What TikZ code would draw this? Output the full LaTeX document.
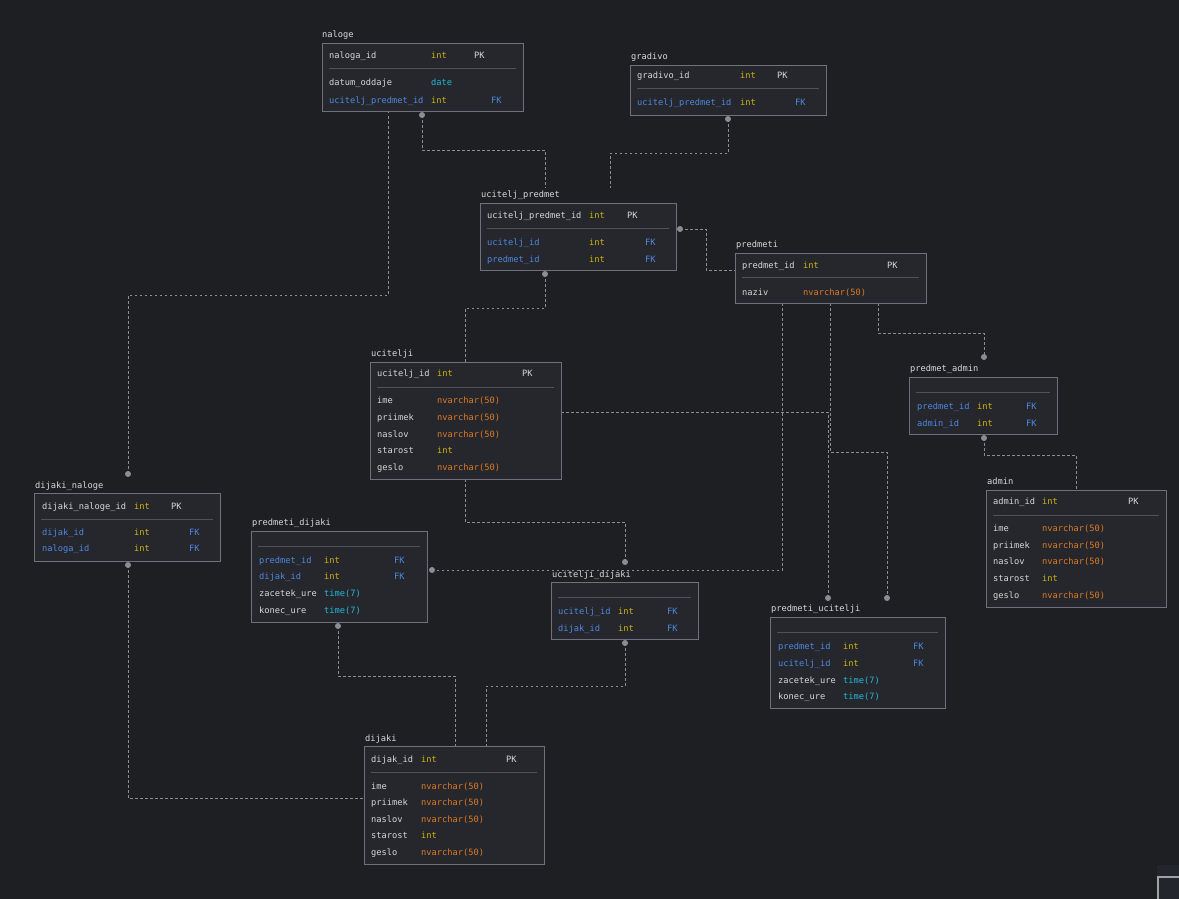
\documentclass[tikz,border=0pt]{standalone}
\usepackage{fontspec}
\setmonofont{DejaVu Sans Mono}
\definecolor{bg}{HTML}{1E1F23}
\definecolor{tfill}{HTML}{25272D}
\definecolor{tborder}{HTML}{6E717B}
\definecolor{tsep}{HTML}{4F525A}
\definecolor{ttitle}{HTML}{DADADA}
\definecolor{tname}{HTML}{D8D8D8}
\definecolor{tyel}{HTML}{CDB70F}
\definecolor{torg}{HTML}{DE7A26}
\definecolor{tcyan}{HTML}{22BAD8}
\definecolor{tblue}{HTML}{4F88DF}
\definecolor{conn}{HTML}{8A8D95}
\definecolor{panel}{HTML}{22252C}
\definecolor{panelline}{HTML}{A0A2A8}
\newcommand\fld[8]{\node[#4] (#1n) at (#3,#2) {#5}; \node[#7] (#1t) at (#6,#2) {#8};}
\newcommand\ky[5]{\node[#4] (#1k) at (#3,#2) {#5};}
\newcommand\tsepline[4]{\draw[sepl] (#2,#1) -- (#3,#1) coordinate (#4);}
\begin{document}
\begin{tikzpicture}[x=1pt,y=-1pt,
  txt/.style={anchor=base west,inner sep=0pt,yshift=-3pt,font=\fontsize{8.7}{10}\selectfont\ttfamily},
  nm/.style={txt,text=tname},
  fk/.style={txt,text=tblue},
  ty/.style={txt,text=tyel},
  ny/.style={txt,text=torg},
  tc/.style={txt,text=tcyan},
  pk/.style={txt,text=tname},
  ttl/.style={txt,text=ttitle},
  tbl/.style={draw=tborder,fill=tfill,line width=1.4pt,anchor=north west,inner sep=0pt},
  sepl/.style={draw=tsep,line width=1pt},
  connl/.style={draw=conn,line width=0.9pt,dash pattern=on 2.5pt off 2.5pt},
  dotm/.style={circle,fill=conn,inner sep=0pt,minimum size=6pt}]
\useasboundingbox[fill=bg] (0,0) rectangle (1179,899);
% bottom-right panel
\fill[panel] (1157,865) rectangle (1179,899);
\draw[panelline,line width=1.2pt] (1158,899) -- (1158,877) -- (1179,877);
% connector coordinates
\coordinate (c1a) at (388,111); \coordinate (c1b) at (128,474);
\coordinate (c2a) at (422,115); \coordinate (c2b) at (545,188);
\coordinate (c3a) at (728,119); \coordinate (c3b) at (610,188);
\coordinate (c4a) at (680,229); \coordinate (c4b) at (735,270);
\coordinate (c5a) at (545,274); \coordinate (c5b) at (465,362);
\coordinate (c6a) at (878,303); \coordinate (c6b) at (984,357);
\coordinate (c7a) at (984,438); \coordinate (c7b) at (1076,490);
\coordinate (c8a) at (561,412); \coordinate (c8b) at (828,598);
\coordinate (c9a) at (830,303); \coordinate (c9b) at (887,598);
\coordinate (c10a) at (782,303); \coordinate (c10b) at (432,570);
\coordinate (c11a) at (465,479); \coordinate (c11b) at (625,562);
\coordinate (c12a) at (625,643); \coordinate (c12b) at (486,746);
\coordinate (c13a) at (338,626); \coordinate (c13b) at (455,746);
\coordinate (c14a) at (128,565); \coordinate (c14b) at (364,798);
% connectors
\draw[connl] (c1a) -- (388,295) -| (c1b);
\draw[connl] (c2a) -- (422,150) -| (c2b);
\draw[connl] (c3a) -- (728,153) -| (c3b);
\draw[connl] (c4a) -- (706,229) |- (c4b);
\draw[connl] (c5a) -- (545,308) -| (c5b);
\draw[connl] (c6a) -- (878,333) -| (c6b);
\draw[connl] (c7a) -- (984,455) -| (c7b);
\draw[connl] (c8a) -| (c8b);
\draw[connl] (c9a) -- (830,452) -| (c9b);
\draw[connl] (c10a) |- (c10b);
\draw[connl] (c11a) -- (465,522) -| (c11b);
\draw[connl] (c12a) -- (625,686) -| (c12b);
\draw[connl] (c13a) -- (338,676) -| (c13b);
\draw[connl] (c14a) |- (c14b);
% ---------- naloge
\node[tbl,minimum width=201pt,minimum height=68pt] (naloge) at (322,43) {};
\node[ttl] (nalogeT) at (322,35) {naloge};
\tsepline{69}{329}{516}{nalogeS}
\fld{na1}{56}{329}{nm}{naloga\_id}{431}{ty}{int}\ky{na1}{56}{474}{pk}{PK}
\fld{na2}{83}{329}{nm}{datum\_oddaje}{431}{tc}{date}
\fld{na3}{100}{329}{fk}{ucitelj\_predmet\_id}{431}{ty}{int}\ky{na3}{100}{491}{fk}{FK}
% ---------- gradivo
\node[tbl,minimum width=196pt,minimum height=50pt] (gradivo) at (630,65) {};
\node[ttl] (gradivoT) at (631,57) {gradivo};
\tsepline{89}{637}{819}{gradivoS}
\fld{gr1}{76}{637}{nm}{gradivo\_id}{740}{ty}{int}\ky{gr1}{76}{777}{pk}{PK}
\fld{gr2}{103}{637}{fk}{ucitelj\_predmet\_id}{740}{ty}{int}\ky{gr2}{103}{795}{fk}{FK}
% ---------- ucitelj_predmet
\node[tbl,minimum width=196pt,minimum height=67pt] (ucpr) at (480,203) {};
\node[ttl] (ucprT) at (481,194) {ucitelj\_predmet};
\tsepline{228}{487}{669}{ucprS}
\fld{up1}{215}{487}{nm}{ucitelj\_predmet\_id}{589}{ty}{int}\ky{up1}{215}{627}{pk}{PK}
\fld{up2}{242}{487}{fk}{ucitelj\_id}{589}{ty}{int}\ky{up2}{242}{645}{fk}{FK}
\fld{up3}{259}{487}{fk}{predmet\_id}{589}{ty}{int}\ky{up3}{259}{645}{fk}{FK}
% ---------- predmeti
\node[tbl,minimum width=191pt,minimum height=50pt] (predmeti) at (735,253) {};
\node[ttl] (predmetiT) at (736,244) {predmeti};
\tsepline{277}{742}{919}{predmetiS}
\fld{pr1}{265}{742}{nm}{predmet\_id}{803}{ty}{int}\ky{pr1}{265}{887}{pk}{PK}
\fld{pr2}{292}{742}{nm}{naziv}{803}{ny}{nvarchar(50)}
% ---------- ucitelji
\node[tbl,minimum width=191pt,minimum height=117pt] (ucitelji) at (370,362) {};
\node[ttl] (uciteljiT) at (371,353) {ucitelji};
\tsepline{387}{377}{554}{uciteljiS}
\fld{uc1}{373}{377}{nm}{ucitelj\_id}{437}{ty}{int}\ky{uc1}{373}{522}{pk}{PK}
\fld{uc2}{400}{377}{nm}{ime}{437}{ny}{nvarchar(50)}
\fld{uc3}{417}{377}{nm}{priimek}{437}{ny}{nvarchar(50)}
\fld{uc4}{434}{377}{nm}{naslov}{437}{ny}{nvarchar(50)}
\fld{uc5}{450}{377}{nm}{starost}{437}{ty}{int}
\fld{uc6}{467}{377}{nm}{geslo}{437}{ny}{nvarchar(50)}
% ---------- predmet_admin
\node[tbl,minimum width=148pt,minimum height=57pt] (pradm) at (909,377) {};
\node[ttl] (pradmT) at (910,368) {predmet\_admin};
\tsepline{392}{916}{1050}{pradmS}
\fld{pa1}{406}{917}{fk}{predmet\_id}{977}{ty}{int}\ky{pa1}{406}{1026}{fk}{FK}
\fld{pa2}{423}{917}{fk}{admin\_id}{977}{ty}{int}\ky{pa2}{423}{1026}{fk}{FK}
% ---------- admin
\node[tbl,minimum width=180pt,minimum height=117pt] (admin) at (986,490) {};
\node[ttl] (adminT) at (987,481) {admin};
\tsepline{515}{993}{1159}{adminS}
\fld{ad1}{501}{993}{nm}{admin\_id}{1042}{ty}{int}\ky{ad1}{501}{1128}{pk}{PK}
\fld{ad2}{528}{993}{nm}{ime}{1042}{ny}{nvarchar(50)}
\fld{ad3}{545}{993}{nm}{priimek}{1042}{ny}{nvarchar(50)}
\fld{ad4}{561}{993}{nm}{naslov}{1042}{ny}{nvarchar(50)}
\fld{ad5}{578}{993}{nm}{starost}{1042}{ty}{int}
\fld{ad6}{595}{993}{nm}{geslo}{1042}{ny}{nvarchar(50)}
% ---------- dijaki_naloge
\node[tbl,minimum width=186pt,minimum height=68pt] (dinal) at (34,493) {};
\node[ttl] (dinalT) at (35,485) {dijaki\_naloge};
\tsepline{519}{41}{213}{dinalS}
\fld{dn1}{506}{42}{nm}{dijaki\_naloge\_id}{134}{ty}{int}\ky{dn1}{506}{171}{pk}{PK}
\fld{dn2}{532}{42}{fk}{dijak\_id}{134}{ty}{int}\ky{dn2}{532}{189}{fk}{FK}
\fld{dn3}{548}{42}{fk}{naloga\_id}{134}{ty}{int}\ky{dn3}{548}{189}{fk}{FK}
% ---------- predmeti_dijaki
\node[tbl,minimum width=176pt,minimum height=91pt] (prdij) at (251,531) {};
\node[ttl] (prdijT) at (252,522) {predmeti\_dijaki};
\tsepline{546}{258}{420}{prdijS}
\fld{pd1}{560}{259}{fk}{predmet\_id}{324}{ty}{int}\ky{pd1}{560}{394}{fk}{FK}
\fld{pd2}{576}{259}{fk}{dijak\_id}{324}{ty}{int}\ky{pd2}{576}{394}{fk}{FK}
\fld{pd3}{593}{259}{nm}{zacetek\_ure}{324}{tc}{time(7)}
\fld{pd4}{610}{259}{nm}{konec\_ure}{324}{tc}{time(7)}
% ---------- ucitelji_dijaki
\node[tbl,minimum width=147pt,minimum height=57pt] (ucdij) at (551,582) {};
\node[ttl] (ucdijT) at (552,574) {ucitelji\_dijaki};
\tsepline{597}{558}{691}{ucdijS}
\fld{ud1}{611}{558}{fk}{ucitelj\_id}{618}{ty}{int}\ky{ud1}{611}{667}{fk}{FK}
\fld{ud2}{628}{558}{fk}{dijak\_id}{618}{ty}{int}\ky{ud2}{628}{667}{fk}{FK}
% ---------- predmeti_ucitelji
\node[tbl,minimum width=175pt,minimum height=91pt] (pruc) at (770,617) {};
\node[ttl] (prucT) at (771,608) {predmeti\_ucitelji};
\tsepline{632}{777}{938}{prucS}
\fld{pu1}{646}{778}{fk}{predmet\_id}{843}{ty}{int}\ky{pu1}{646}{913}{fk}{FK}
\fld{pu2}{663}{778}{fk}{ucitelj\_id}{843}{ty}{int}\ky{pu2}{663}{913}{fk}{FK}
\fld{pu3}{680}{778}{nm}{zacetek\_ure}{843}{tc}{time(7)}
\fld{pu4}{696}{778}{nm}{konec\_ure}{843}{tc}{time(7)}
% ---------- dijaki
\node[tbl,minimum width=180pt,minimum height=118pt] (dijaki) at (364,746) {};
\node[ttl] (dijakiT) at (365,738) {dijaki};
\tsepline{772}{371}{537}{dijakiS}
\fld{dj1}{759}{371}{nm}{dijak\_id}{421}{ty}{int}\ky{dj1}{759}{506}{pk}{PK}
\fld{dj2}{786}{371}{nm}{ime}{421}{ny}{nvarchar(50)}
\fld{dj3}{802}{371}{nm}{priimek}{421}{ny}{nvarchar(50)}
\fld{dj4}{819}{371}{nm}{naslov}{421}{ny}{nvarchar(50)}
\fld{dj5}{835}{371}{nm}{starost}{421}{ty}{int}
\fld{dj6}{852}{371}{nm}{geslo}{421}{ny}{nvarchar(50)}
% dots
\node[dotm] (d1) at (c1b) {};
\node[dotm] (d2) at (c2a) {};
\node[dotm] (d3) at (c3a) {};
\node[dotm] (d4) at (c4a) {};
\node[dotm] (d5) at (c5a) {};
\node[dotm] (d6) at (c6b) {};
\node[dotm] (d7) at (c7a) {};
\node[dotm] (d8) at (c8b) {};
\node[dotm] (d9) at (c9b) {};
\node[dotm] (d10) at (c10b) {};
\node[dotm] (d11) at (c11b) {};
\node[dotm] (d12) at (c12a) {};
\node[dotm] (d13) at (c13a) {};
\node[dotm] (d14) at (c14a) {};
\end{tikzpicture}
\end{document}
